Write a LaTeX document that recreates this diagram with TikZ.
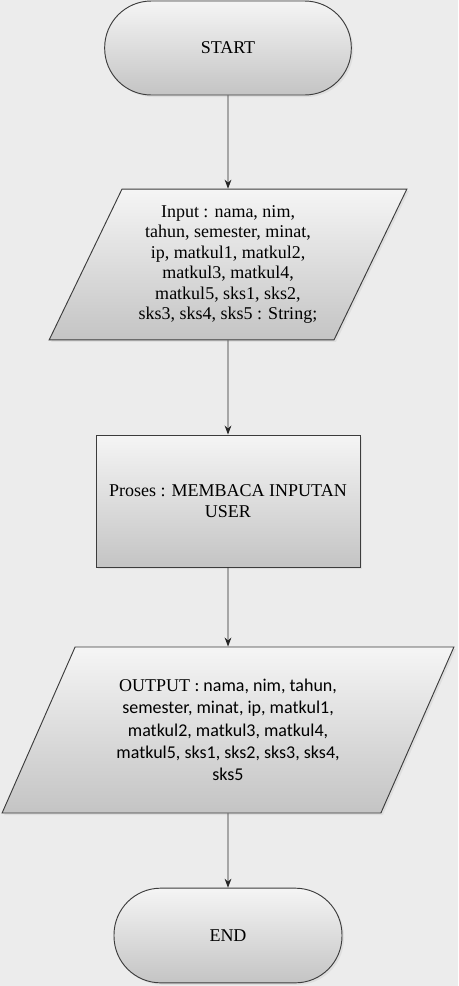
\documentclass[tikz,border=0pt]{standalone}
\usepackage{fontspec}
\setmainfont{Liberation Serif}
\newfontfamily\calibrifont{Carlito}
\usepackage{tikz}
\usetikzlibrary{shapes.geometric, arrows.meta, shadows}

\definecolor{bgcol}{RGB}{236,236,236}
\definecolor{shapetop}{RGB}{245,245,245}
\definecolor{shapebot}{RGB}{196,196,196}
\definecolor{edgecol}{RGB}{60,60,60}

\begin{document}
\begin{tikzpicture}[x=0.75pt,y=-0.75pt,
		box/.style={draw=edgecol, line width=0.7pt, top color=shapetop, bottom color=shapebot,
			drop shadow={opacity=0.12, shadow xshift=1.5pt, shadow yshift=-1.5pt},
			align=center, inner sep=2pt, font=\fontsize{13.5}{15.4}\selectfont},
		terminal/.style={box, rectangle, rounded corners=35pt, minimum width=185pt, minimum height=70.5pt},
		io/.style={box, trapezium, trapezium left angle=63, trapezium right angle=117, trapezium stretches=true},
		flow/.style={line width=0.7pt, draw=black!85, -{Stealth[scale=1.1]}}]
			\fill[bgcol] (0,0) rectangle (458,986);
			\useasboundingbox (0,0) rectangle (458,986);

			\node[terminal] (start) at (228,48) {START};
			\node[io, minimum width=269pt, minimum height=113pt] (input) at (228,264.5)
				{Input : nama, nim,\\ tahun, semester, minat,\\ ip, matkul1, matkul2,\\ matkul3, matkul4,\\ matkul5, sks1, sks2,\\ sks3, sks4, sks5 : String;};
			\node[box, rectangle, minimum width=198pt, minimum height=99pt] (proses) at (228,501)
				{Proses : MEMBACA INPUTAN\\ USER};
			\node[io, minimum width=340pt, minimum height=124.5pt, font=\fontsize{13.5}{16.7}\selectfont] (output) at (228,730)
				{OUTPUT {\calibrifont : nama, nim, tahun,}\\ \calibrifont semester, minat, ip, matkul1,\\ \calibrifont matkul2, matkul3, matkul4,\\ \calibrifont matkul5, sks1, sks2, sks3, sks4,\\ \calibrifont sks5};
			\node[terminal, minimum width=171pt, minimum height=71pt] (end) at (228,935.5) {END};

			\draw[flow] (start) -- (input);
			\draw[flow] (input) -- (proses);
			\draw[flow] (proses) -- (output);
			\draw[flow] (output) -- (end);
		\end{tikzpicture}
\end{document}
